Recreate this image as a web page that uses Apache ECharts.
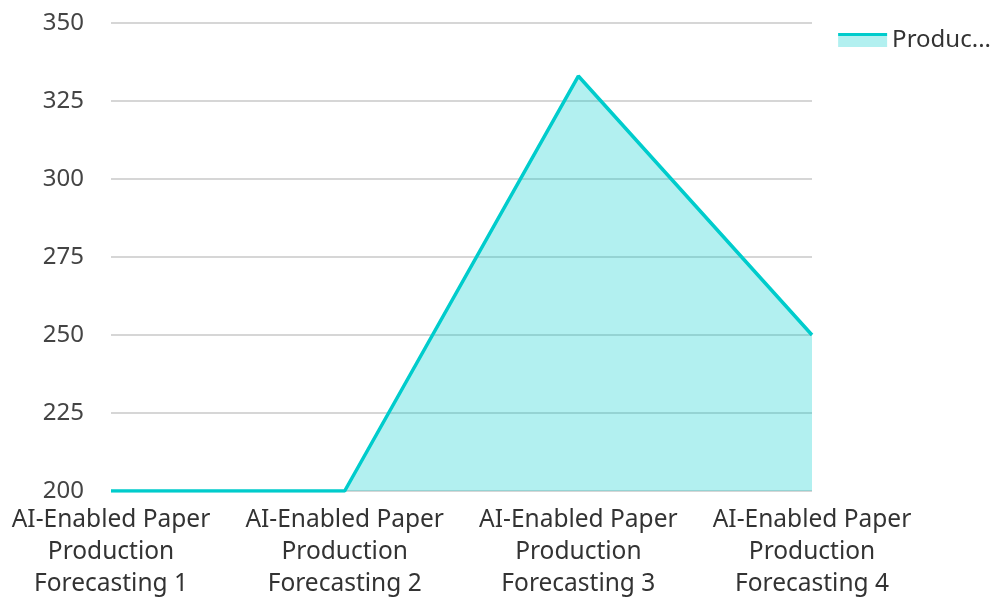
<!DOCTYPE html>
<html>
<head>
<meta charset="utf-8">
<script src="https://cdn.jsdelivr.net/npm/echarts@6/dist/echarts.min.js"></script>
<style>html,body{margin:0;padding:0;background:#fff}#c{width:999px;height:597px}</style>
</head>
<body>
<div id="c"></div>
<script>
const categories = [
  "AI-Enabled Paper Production Forecasting 1",
  "AI-Enabled Paper Production Forecasting 2",
  "AI-Enabled Paper Production Forecasting 3",
  "AI-Enabled Paper Production Forecasting 4"
];
const seriesName = "Production Forecast";
const values = [200, 200, 333, 250];
const yMin = 200, yMax = 350, yStep = 25;

const chart = echarts.init(document.getElementById('c'));
const font = "'Noto Sans', sans-serif";
chart.setOption({
  animation: false,
  textStyle: { fontFamily: font },
  grid: { left: 111, right: 187, top: 23, bottom: 106, outerBoundsMode: 'none', containLabel: false },
  legend: {
    right: 3, top: 23,
    itemWidth: 49, itemHeight: 14,
    itemGap: 10,
    icon: 'rect',
    textStyle: { fontSize: 24, color: '#333', fontFamily: font, width: 102, overflow: 'truncate' },
    data: [{
      name: seriesName,
      itemStyle: {
        color: { type: 'linear', x: 0, y: 0, x2: 0, y2: 1, colorStops: [
          { offset: 0, color: '#00cccc' }, { offset: 0.22, color: '#00cccc' },
          { offset: 0.22, color: '#b2f0f0' }, { offset: 1, color: '#b2f0f0' }
        ] }
      }
    }]
  },
  xAxis: {
    type: 'category', data: categories, boundaryGap: false,
    axisLine: { show: false }, axisTick: { show: false },
    axisLabel: {
      fontSize: 24.5, color: '#333', lineHeight: 32, margin: 13, interval: 0,
      formatter: v => v.replace('Paper Production ', 'Paper\nProduction\n')
    }
  },
  yAxis: {
    type: 'value', min: yMin, max: yMax, interval: yStep,
    axisLine: { show: false }, axisTick: { show: false },
    axisLabel: { fontSize: 24, color: '#444', margin: 27 },
    splitLine: { lineStyle: { color: '#c8c8c8', width: 1.5 } }
  },
  series: [{
    name: seriesName, type: 'line', data: values,
    symbol: 'none',
    lineStyle: { color: '#00cccc', width: 3.5 },
    itemStyle: { color: '#00cccc' },
    areaStyle: { color: '#00cccc', opacity: 0.3 }
  }]
});
</script>
</body>
</html>
